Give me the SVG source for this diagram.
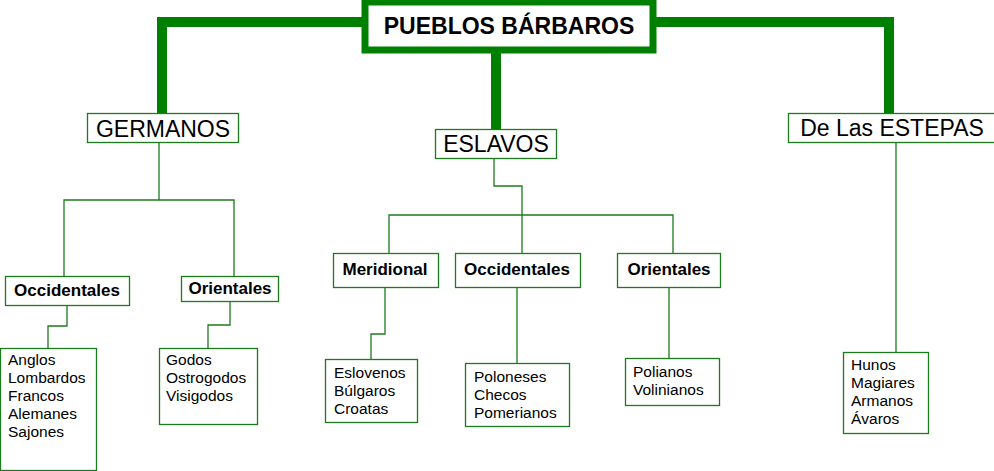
<svg xmlns="http://www.w3.org/2000/svg" width="994" height="471" viewBox="0 0 994 471">
<style>
.b{fill:#fff;stroke:#1e7a1e;stroke-width:1.3}
.c{fill:none;stroke:#1e7a1e;stroke-width:1.3}
.t{font-family:"Liberation Sans",Arial,sans-serif;fill:#000}
.h{font-size:23px}
.s{font-size:17px;font-weight:bold}
.l{font-size:15.5px}
</style>
<rect width="994" height="471" fill="#fff"/>
<g id="connectors">
<path d="M367 22H162V113M650 22H889V113M496 50V130" fill="none" stroke="#008000" stroke-width="10"/>
<path class="c" d="M159 143V200M64 276V200H234V276M67 305V326H48V348M230 301V325H208V348"/>
<path class="c" d="M494 158V186H522V215M389 254V215H673V254M522 215V254M385 287V334H371V360M517 287V363M669 287V358M896 142V352"/>
</g>
<g id="root"><rect x="365" y="2" width="288" height="48" fill="#fff" stroke="#008000" stroke-width="7"/><text class="t" x="509" y="34" font-size="23" font-weight="bold" text-anchor="middle">PUEBLOS BÁRBAROS</text></g>
<g id="germanos"><rect class="b" x="87.5" y="113.5" width="151" height="29"/><text class="t h" x="163" y="137" text-anchor="middle">GERMANOS</text></g>
<g id="eslavos"><rect class="b" x="435.5" y="129.5" width="121" height="29"/><text class="t h" x="496" y="152" text-anchor="middle">ESLAVOS</text></g>
<g id="estepas"><rect class="b" x="788.5" y="113.5" width="207" height="29"/><text class="t h" x="892" y="136" text-anchor="middle">De Las ESTEPAS</text></g>
<g id="g-occ"><rect class="b" x="5.5" y="276.5" width="124" height="29"/><text class="t s" x="67" y="296" text-anchor="middle">Occidentales</text></g>
<g id="g-ori"><rect class="b" x="181.5" y="276.5" width="97" height="25"/><text class="t s" x="230" y="294" text-anchor="middle">Orientales</text></g>
<g id="g-occ-list"><rect class="b" x="0.5" y="348.5" width="96" height="122"/><text class="t l" x="8" y="365">Anglos<tspan x="8" dy="18">Lombardos</tspan><tspan x="8" dy="18">Francos</tspan><tspan x="8" dy="18">Alemanes</tspan><tspan x="8" dy="18">Sajones</tspan></text></g>
<g id="g-ori-list"><rect class="b" x="159.5" y="348.5" width="98" height="76"/><text class="t l" x="166" y="365">Godos<tspan x="166" dy="18">Ostrogodos</tspan><tspan x="166" dy="18">Visigodos</tspan></text></g>
<g id="e-mer"><rect class="b" x="333.5" y="253.5" width="105" height="34"/><text class="t s" x="385" y="275" text-anchor="middle">Meridional</text></g>
<g id="e-occ"><rect class="b" x="455.5" y="253.5" width="125" height="34"/><text class="t s" x="517" y="275" text-anchor="middle">Occidentales</text></g>
<g id="e-ori"><rect class="b" x="617.5" y="253.5" width="103" height="34"/><text class="t s" x="669" y="275" text-anchor="middle">Orientales</text></g>
<g id="e-mer-list"><rect class="b" x="325.5" y="359.5" width="92" height="63"/><text class="t l" x="334" y="378">Eslovenos<tspan x="334" dy="18">Búlgaros</tspan><tspan x="334" dy="18">Croatas</tspan></text></g>
<g id="e-occ-list"><rect class="b" x="465.5" y="363.5" width="104" height="63"/><text class="t l" x="474" y="382">Poloneses<tspan x="474" dy="18">Checos</tspan><tspan x="474" dy="18">Pomerianos</tspan></text></g>
<g id="e-ori-list"><rect class="b" x="625.5" y="358.5" width="94" height="47"/><text class="t l" x="633" y="377">Polianos<tspan x="633" dy="18">Volinianos</tspan></text></g>
<g id="estepas-list"><rect class="b" x="843.5" y="352.5" width="85" height="81"/><text class="t l" x="851" y="370">Hunos<tspan x="851" dy="18">Magiares</tspan><tspan x="851" dy="18">Armanos</tspan><tspan x="851" dy="18">Ávaros</tspan></text></g>
</svg>
